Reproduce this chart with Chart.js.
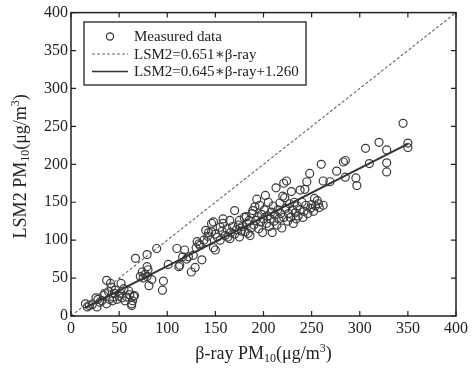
<!DOCTYPE html>
<html>
<head>
<meta charset="utf-8">
<script src="https://cdn.jsdelivr.net/npm/chart.js@4/dist/chart.umd.min.js"></script>
<style>
html,body{margin:0;padding:0;background:#fff;}
#c{display:block;}
</style>
</head>
<body>
<canvas id="c" width="474" height="379"></canvas>
<script>
const measuredX = [15,17,19,22,26,27,28,30,32,34,35,37,37,39,40,41,42,43,44,45,46,48,50,51,52,53,55,56,58,60,61,63,63,64,65,66,67,
 72,74,75,77,79,79,80,79,81,84,89,96,95,101,110,112,113,116,118,120,122,125,127,129,130,131,
 133,134,136,138,140,141,142,143,146,146,148,148,150,150,152,155,155,157,158,158,160,162,163,165,165,166,168,170,170,172,174,175,175,
 177,178,180,181,182,183,184,185,186,187,188,189,190,191,192,193,194,195,196,197,198,199,200,201,202,203,204,205,206,207,208,209,210,211,212,213,214,215,216,217,218,219,220,221,221,222,223,224,225,226,227,228,229,230,231,232,233,234,235,236,238,238,240,241,242,243,244,245,246,248,249,250,252,253,254,256,257,258,260,
 262,262,269,276,283,285,285,296,297,306,310,320,328,328,328,345,350,350];
const measuredY = [16,12,14,15,24,12,22,18,20,27,30,16,47,32,22,43,38,20,25,30,34,22,26,30,43,24,36,20,25,33,28,16,14,20,26,27,76,
 52,58,50,55,81,65,61,52,40,48,89,46,34,68,89,65,67,78,87,75,78,58,80,64,90,98,
 95,93,74,100,113,98,105,110,122,111,124,90,87,108,104,117,100,112,122,128,106,115,104,126,102,110,118,139,108,114,120,126,104,
 112,118,130,111,131,122,109,126,106,116,135,139,120,144,126,154,131,115,146,124,134,110,128,140,159,122,132,150,118,128,137,110,145,125,133,169,120,140,128,149,135,116,158,175,130,156,142,178,125,135,148,130,164,140,122,150,136,128,145,132,166,140,150,130,138,167,146,177,135,188,142,147,138,155,145,152,148,143,200,
 178,146,177,191,203,205,183,182,172,221,201,229,219,202,190,254,228,222];
// 1:1 reference line (dashed) and fitted line (solid)
const refX = [0, 400];
const refY = [0, 400];
const fitX = [15, 350];
const fitY = [11, 227];
const tickValues = [0,50,100,150,200,250,300,350,400];
const legendLabels = ['Measured data','LSM2=0.651\u2217\u03B2-ray','LSM2=0.645\u2217\u03B2-ray+1.260'];

const SERIF = '"Liberation Serif","DejaVu Serif",serif';
const INK = '#222';

function pts(xs, ys){ return xs.map((x,i)=>({x:x, y:ys[i]})); }

function drawRuns(ctx, runs, x, y, align){
  let total = 0;
  runs.forEach(r=>{ ctx.font = r.s + 'px ' + SERIF; r.w = ctx.measureText(r.t).width; total += r.w; });
  let cx = align === 'center' ? x - total/2 : x;
  ctx.textAlign = 'left';
  ctx.textBaseline = 'alphabetic';
  runs.forEach(r=>{ ctx.font = r.s + 'px ' + SERIF; ctx.fillText(r.t, cx, y + r.dy); cx += r.w; });
}

const decor = {
  id: 'decor',
  afterDatasetsDraw(chart){
    const ctx = chart.ctx, a = chart.chartArea;
    const xs = chart.scales.x, ys = chart.scales.y;
    ctx.save();
    // frame
    ctx.strokeStyle = INK; ctx.lineWidth = 1.5;
    ctx.strokeRect(a.left, a.top, a.right - a.left, a.bottom - a.top);
    // inward ticks on all sides
    ctx.lineWidth = 1.2;
    const L = 5;
    ctx.beginPath();
    tickValues.forEach(v=>{
      const px = xs.getPixelForValue(v);
      ctx.moveTo(px, a.bottom); ctx.lineTo(px, a.bottom - L);
      ctx.moveTo(px, a.top); ctx.lineTo(px, a.top + L);
      const py = ys.getPixelForValue(v);
      ctx.moveTo(a.left, py); ctx.lineTo(a.left + L, py);
      ctx.moveTo(a.right, py); ctx.lineTo(a.right - L, py);
    });
    ctx.stroke();

    // legend
    const bx = 84, by = 22, bw = 222, bh = 63;
    ctx.fillStyle = '#fff';
    ctx.fillRect(bx, by, bw, bh);
    ctx.strokeStyle = INK; ctx.lineWidth = 1.3;
    ctx.strokeRect(bx, by, bw, bh);
    const rows = [36.5, 54, 71.5];
    ctx.strokeStyle = '#333'; ctx.lineWidth = 1.2;
    ctx.beginPath(); ctx.arc(110, rows[0], 3.6, 0, Math.PI*2); ctx.stroke();
    ctx.strokeStyle = '#666'; ctx.lineWidth = 1.1;
    ctx.setLineDash([3,2]);
    ctx.beginPath(); ctx.moveTo(92, rows[1]); ctx.lineTo(128, rows[1]); ctx.stroke();
    ctx.setLineDash([]);
    ctx.strokeStyle = '#333'; ctx.lineWidth = 1.3;
    ctx.beginPath(); ctx.moveTo(92, rows[2]); ctx.lineTo(128, rows[2]); ctx.stroke();
    ctx.fillStyle = INK;
    ctx.font = '15px ' + SERIF;
    ctx.textAlign = 'left'; ctx.textBaseline = 'middle';
    legendLabels.forEach((t,i)=> ctx.fillText(t, 134, rows[i] + 1));

    // axis titles
    ctx.fillStyle = INK;
    const cxT = (a.left + a.right)/2;
    drawRuns(ctx, [
      {t:'\u03B2-ray PM', s:18, dy:0},
      {t:'10', s:12, dy:3},
      {t:'(\u03BCg/m', s:18, dy:0},
      {t:'3', s:12, dy:-7},
      {t:')', s:18, dy:0}
    ], cxT, 358.5, 'center');
    ctx.save();
    ctx.translate(26, (a.top + a.bottom)/2 + 2);
    ctx.rotate(-Math.PI/2);
    drawRuns(ctx, [
      {t:'LSM2 PM', s:18, dy:0},
      {t:'10', s:12, dy:3},
      {t:'(\u03BCg/m', s:18, dy:0},
      {t:'3', s:12, dy:-7},
      {t:')', s:18, dy:0}
    ], 0, 0, 'center');
    ctx.restore();
    ctx.restore();
  }
};

new Chart(document.getElementById('c'), {
  type: 'scatter',
  data: {
    datasets: [
      {
        label: legendLabels[0],
        data: pts(measuredX, measuredY),
        showLine: false,
        pointStyle: 'circle',
        pointRadius: 4,
        pointBorderWidth: 1.2,
        pointBorderColor: '#3a3a3a',
        pointBackgroundColor: 'rgba(0,0,0,0)',
        order: 3
      },
      {
        label: legendLabels[1],
        type: 'line',
        data: pts(refX, refY),
        showLine: true,
        borderColor: '#666',
        borderWidth: 1.1,
        borderDash: [3,2],
        pointRadius: 0,
        fill: false,
        order: 2
      },
      {
        label: legendLabels[2],
        type: 'line',
        data: pts(fitX, fitY),
        showLine: true,
        borderColor: '#333',
        borderWidth: 2,
        pointRadius: 0,
        fill: false,
        order: 1
      }
    ]
  },
  options: {
    responsive: false,
    animation: false,
    devicePixelRatio: 1,
    layout: { padding: { left: 0, right: 18, top: 12, bottom: 0 } },
    plugins: { legend: { display: false }, tooltip: { enabled: false } },
    scales: {
      x: {
        type: 'linear', min: 0, max: 400,
        afterBuildTicks: s => { s.ticks = tickValues.map(v=>({value:v})); },
        ticks: { font: { family: SERIF, size: 16 }, color: INK, padding: 3, maxRotation: 0, autoSkip: false },
        grid: { display: false, drawTicks: false, tickLength: 0 },
        border: { display: false },
        afterFit: s => { s.height = 63; }
      },
      y: {
        type: 'linear', min: 0, max: 400,
        afterBuildTicks: s => { s.ticks = tickValues.map(v=>({value:v})); },
        ticks: { font: { family: SERIF, size: 16 }, color: INK, padding: 3, autoSkip: false },
        grid: { display: false, drawTicks: false, tickLength: 0 },
        border: { display: false },
        afterFit: s => { s.width = 71; }
      }
    }
  },
  plugins: [decor]
});
</script>
</body>
</html>
